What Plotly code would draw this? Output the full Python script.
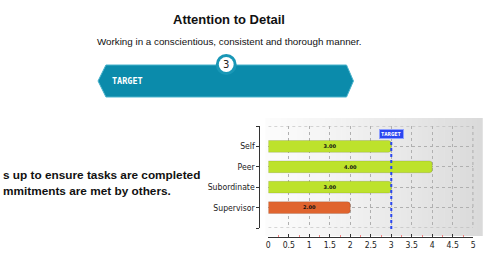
import plotly.graph_objects as go

W, H = 501, 263

# ---- data ----
categories = ["Self", "Peer", "Subordinate", "Supervisor"]
scores = [3.00, 4.00, 3.00, 2.00]
bar_colors = ["#bde22c", "#bde22c", "#bde22c", "#e0642e"]
target = 3
x_ticks = [0, 0.5, 1, 1.5, 2, 2.5, 3, 3.5, 4, 4.5, 5]
x_tick_labels = ["0", "0.5", "1", "1.5", "2", "2.5", "3", "3.5", "4", "4.5", "5"]
title = "Attention to Detail"
subtitle = "Working in a conscientious, consistent and thorough manner."
desc_lines = ["s up to ensure tasks are completed", "mmitments are met by others."]


def px(x):
    return x / W


def py(y):
    return 1 - y / H


ypos = list(range(len(categories)))
GRID = "#b0b0b0"
DASH = "3px,3px"

fig = go.Figure()
fig.add_trace(go.Bar(
    x=scores, y=ypos, orientation="h",
    marker=dict(color=bar_colors, cornerradius=3,
                line=dict(color="rgba(0,0,0,0.12)", width=1)),
    width=0.58,
    text=[f"<b>{v:.2f}</b>" for v in scores],
    textposition="inside", insidetextanchor="middle",
    textfont=dict(family="DejaVu Sans", size=9.5, color="#111111"),
    cliponaxis=False, hoverinfo="skip",
))

shapes = []
# gradient background of the chart area
n = 40
x_left, x_right, y_top, y_bot = 266, 485, 118, 236
for i in range(n):
    a = x_left + (x_right - x_left) * i / n
    b = x_left + (x_right - x_left) * (i + 1) / n + 0.6
    g = int(252 - (252 - 218) * (i / (n - 1)) ** 1.2)
    shapes.append(dict(type="rect", xref="paper", yref="paper", layer="below",
                       x0=px(a), x1=px(b), y0=py(y_bot), y1=py(y_top),
                       line=dict(width=0), fillcolor=f"rgb({g},{g},{g})"))

# frame grid lines (top, bottom, right)
shapes.append(dict(type="line", xref="x", yref="y", x0=0, x1=5, y0=-1, y1=-1,
                   layer="below", line=dict(color=GRID, width=1, dash=DASH)))
shapes.append(dict(type="line", xref="x", yref="y", x0=0, x1=5, y0=4, y1=4,
                   layer="below", line=dict(color=GRID, width=1, dash=DASH)))
shapes.append(dict(type="line", xref="x", yref="y", x0=5, x1=5, y0=-1, y1=4,
                   layer="below", line=dict(color="#777", width=1, dash=DASH)))

# banner
pts = [(97, 81), (105, 65), (348, 65), (355, 81), (348, 97), (105, 97)]
path = "M " + " L ".join(f"{px(x):.5f},{py(y):.5f}" for x, y in pts) + " Z"
shapes.append(dict(type="path", xref="paper", yref="paper", path=path,
                   fillcolor="#0b8bab", line=dict(color="#49b3cc", width=1)))
# circle
cx, cy = 226.5, 64.5
shapes.append(dict(type="circle", xref="paper", yref="paper",
                   x0=px(cx - 10.5), x1=px(cx + 10.5), y0=py(cy + 10.5), y1=py(cy - 10.5),
                   fillcolor="#1997b6", line=dict(width=0)))
shapes.append(dict(type="circle", xref="paper", yref="paper",
                   x0=px(cx - 7.5), x1=px(cx + 7.5), y0=py(cy + 7.5), y1=py(cy - 7.5),
                   fillcolor="white", line=dict(width=0)))
# target line
shapes.append(dict(type="line", xref="x", yref="paper", x0=target, x1=target,
                   y0=py(229), y1=py(130),
                   line=dict(color="#2a46f0", width=2, dash="dot")))


def ann(text, x, y, size, color="#111", family="Liberation Sans", xanchor="center", **kw):
    return dict(text=text, x=x, y=y, xref=kw.pop("xref", "paper"), yref="paper",
                xanchor=xanchor, yanchor="middle", showarrow=False,
                font=dict(family=family, size=size, color=color), **kw)


annotations = [
    ann(f"<b>{title}</b>", px(229), py(20), 13),
    ann(subtitle, px(230), py(41), 9.8),
    ann("<b>TARGET</b>", px(109), py(81), 8.5, color="white",
        family="DejaVu Sans Mono", xanchor="left"),
    ann(str(target), px(cx), py(cy), 10, color="#222", family="DejaVu Sans"),
    ann(f"<b>{desc_lines[0]}</b>", px(-1), py(175), 11.8, xanchor="left"),
    ann(f"<b>{desc_lines[1]}</b>", px(-1), py(191), 11.8, xanchor="left"),
    ann("<b>TARGET</b>", target, py(134), 5.5, color="white",
        family="DejaVu Sans Mono", xref="x", bgcolor="#2a46f0",
        bordercolor="#8fa0ff", borderwidth=1, borderpad=1),
]

tickfont = dict(family="DejaVu Sans Condensed, DejaVu Sans", size=8.6, color="#222")

fig.update_layout(
    width=W, height=H, margin=dict(l=0, r=0, t=0, b=0),
    paper_bgcolor="white", plot_bgcolor="rgba(0,0,0,0)",
    showlegend=False, shapes=shapes, annotations=annotations,
    xaxis=dict(range=[0, 5], domain=[px(269), px(476)], anchor="free",
               position=py(237), tickvals=x_ticks, ticktext=x_tick_labels,
               showline=True, linecolor="#333", linewidth=1,
               ticks="inside", ticklen=3, tickcolor="#333",
               minor=dict(ticks="inside", ticklen=2, tickcolor="#f08080", dtick=0.25,
                          showgrid=False),
               showgrid=True, gridcolor=GRID, griddash=DASH, gridwidth=1,
               zeroline=False, tickfont=tickfont, fixedrange=True),
    yaxis=dict(range=[4, -1], domain=[py(228), py(126)], anchor="free",
               position=px(260),
               tickvals=[-1, 0, 1, 2, 3, 4],
               ticktext=[""] + categories + [""],
               showline=True, linecolor="#333", linewidth=1,
               ticks="outside", ticklen=3, tickcolor="#333",
               showgrid=True, gridcolor=GRID, griddash=DASH, gridwidth=1,
               zeroline=False, tickfont=tickfont, fixedrange=True),
)

fig.write_html("out.html")
